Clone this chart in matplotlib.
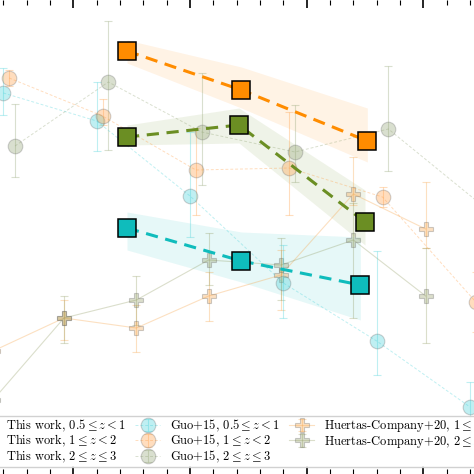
import numpy as np
import matplotlib
matplotlib.use("Agg")
import matplotlib.pyplot as plt
from matplotlib.ticker import MultipleLocator

plt.rcParams['font.family'] = ['cmr10', 'DejaVu Serif']
plt.rcParams['mathtext.fontset'] = 'cm'
plt.rcParams['axes.unicode_minus'] = False

# --- this work: squares + dashed line + shaded band
tw_labels = [r'This work, $0.5 \leq z < 1$', r'This work, $1 \leq z < 2$', r'This work, $2 \leq z \leq 3$']
tw_colors = ['#0fbcbc', 'darkorange', 'olivedrab']
tw_x = [[9.73, 10.22, 10.73], [9.73, 10.22, 10.76], [9.73, 10.21, 10.75]]
tw_y = [[2.46, 2.13, 1.89], [4.23, 3.84, 3.33], [3.37, 3.49, 2.52]]
tw_lo = [[2.24, 1.92, 1.54], [4.11, 3.66, 3.12], [3.29, 3.31, 2.29]]
tw_hi = [[2.62, 2.42, 2.37], [4.34, 4.07, 3.66], [3.49, 3.66, 2.84]]

# --- Guo+15: circles
guo_labels = [r'Guo+15, $0.5 \leq z < 1$', r'Guo+15, $1 \leq z < 2$', r'Guo+15, $2 \leq z \leq 3$']
guo_colors = ['#3fd0d8', '#ff9a3c', '#8ea070']
guo_x = [[9.2, 9.6, 10.0, 10.4, 10.8, 11.2],
         [9.225, 9.625, 10.025, 10.425, 10.825, 11.225],
         [9.25, 9.65, 10.05, 10.45, 10.85, 11.25]]
guo_y = [[3.81, 3.53, 2.78, 1.91, 1.33, 0.67],
         [3.96, 3.58, 3.04, 3.06, 2.77, 1.72],
         [3.28, 3.92, 3.42, 3.22, 3.45, 2.69]]
guo_lo = [[3.59, 3.23, 2.37, 1.56, 0.99, 0.30],
          [3.88, 3.49, 2.59, 2.59, 2.67, 1.42],
          [2.97, 3.24, 2.89, 2.92, 3.03, 2.30]]
guo_hi = [[4.06, 3.92, 3.42, 2.29, 2.23, 0.92],
          [4.04, 3.75, 3.46, 3.62, 2.87, 2.02],
          [3.70, 4.53, 4.01, 3.69, 4.08, 3.10]]

# --- Huertas-Company+20: plus markers
hc_labels = [r'Huertas-Company+20, $1 \leq z < 2$', r'Huertas-Company+20, $2 \leq z < 3$']
hc_colors = ['#f7a040', '#8f9a60']
hc_x = [9.156, 9.46, 9.77, 10.08, 10.39, 10.70, 11.01]
hc_y = [[1.23, 1.56, 1.46, 1.78, 1.99, 2.80, 2.45],
        [0.74, 1.56, 1.74, 2.14, 2.09, 2.34, 1.78]]
hc_lo = [[1.03, 1.34, 1.22, 1.53, 1.64, 2.69, 2.26],
         [0.54, 1.31, 1.49, 1.89, 1.74, 1.56, 1.31]]
hc_hi = [[1.43, 1.74, 1.69, 2.02, 2.24, 3.17, 2.92],
         [0.94, 1.78, 1.98, 2.41, 2.36, 2.71, 2.26]]

fig = plt.figure(figsize=(4.74, 4.74), dpi=100)
ax = fig.add_axes([0, 0, 1, 1])
for sp in ax.spines.values():
    sp.set_visible(False)

handles = []
for i in range(3):
    x = np.array(tw_x[i])
    ax.fill_between(x, tw_lo[i], tw_hi[i], color=tw_colors[i], alpha=0.1, lw=0, zorder=1)
    h, = ax.plot(x, tw_y[i], ls=(0, (4, 2.5)), lw=2.2, color=tw_colors[i], marker='s', ms=12.5,
                 mfc=tw_colors[i], mec='black', mew=1.1, zorder=6, label=tw_labels[i])
    handles.append(h)

for i in range(3):
    y = np.array(guo_y[i])
    yerr = [y - np.array(guo_lo[i]), np.array(guo_hi[i]) - y]
    h = ax.errorbar(guo_x[i], y, yerr=yerr, fmt='o', ms=10.5, color=guo_colors[i], mfc=guo_colors[i],
                    mec='0.45', mew=0.8, ls=(0, (3, 2)), lw=0.7, elinewidth=0.8, capsize=3,
                    alpha=0.33, zorder=3, label=guo_labels[i])
    handles.append(h)

for i in range(2):
    y = np.array(hc_y[i])
    yerr = [y - np.array(hc_lo[i]), np.array(hc_hi[i]) - y]
    h = ax.errorbar(hc_x, y, yerr=yerr, fmt='P', ms=9.5, color=hc_colors[i], mfc=hc_colors[i],
                    mec='0.4', mew=0.8, ls='-', lw=0.8, elinewidth=0.8, capsize=3,
                    alpha=0.32, zorder=2, label=hc_labels[i])
    handles.append(h)

ax.set_xlim(9.1857, 11.2171)
ax.set_ylim(0, 4.74)
ax.xaxis.set_major_locator(MultipleLocator(0.5))
ax.xaxis.set_minor_locator(MultipleLocator(0.1))
ax.tick_params(axis='x', which='both', direction='in', top=True, bottom=True,
               labelbottom=False, labeltop=False)
ax.tick_params(axis='x', which='major', length=6, width=1.2)
ax.tick_params(axis='x', which='minor', length=3.5, width=0.8)
ax.tick_params(axis='y', which='both', left=False, right=False, labelleft=False)

ax.legend(handles=handles, ncol=3, loc='lower left', bbox_to_anchor=(-0.0645, 0.0148),
          fontsize=9, frameon=True, framealpha=0.9, edgecolor='0.8', fancybox=False,
          columnspacing=0.7, handlelength=2.0, handletextpad=0.8, labelspacing=-0.04,
          borderpad=0.15, borderaxespad=0.0)

fig.savefig('out.png', dpi=100)
